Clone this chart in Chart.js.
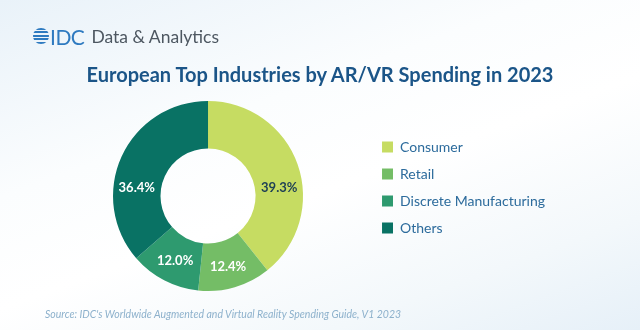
<!DOCTYPE html>
<html>
<head>
<meta charset="utf-8">
<script src="https://cdn.jsdelivr.net/npm/chart.js@4/dist/chart.umd.min.js"></script>
<style>
  html, body { margin: 0; padding: 0; }
  body {
    width: 640px; height: 330px; overflow: hidden; position: relative;
    font-family: Lato, "Open Sans", sans-serif;
    background: linear-gradient(160deg, #e9f2f9 0%, #fbfdfe 35%, #ffffff 55%, #f3f8fb 80%, #e6f0f8 100%);
  }
  #logo { position: absolute; left: 33px; top: 24px; height: 24px; display: flex; align-items: center; }
  #logo .mark {
    width: 16px; height: 16px; border-radius: 50%;
    background: repeating-linear-gradient(180deg, #2e7ac0 0px, #2e7ac0 2px, transparent 2px, transparent 3.5px);
  }
  #logo .idc { color: #2e7ac0; font-size: 21px; margin-left: 1px; letter-spacing: -0.5px; }
  #logo .da { color: #4d5761; font-size: 17.5px; margin-left: 7px; }
  #title {
    position: absolute; left: 0; width: 640px; top: 62px; text-align: center;
    font-weight: bold; font-size: 20px; color: #1b5588;
  }
  #source {
    position: absolute; left: 45px; top: 308px; font-style: italic; font-size: 10.5px; color: #8db1cc;
  }
  #wrap { position: absolute; left: 0; top: 0; width: 640px; height: 330px; }
</style>
</head>
<body>
<div id="wrap"><canvas id="chart"></canvas></div>
<div id="logo"><span class="mark"></span><span class="idc">IDC</span><span class="da">Data &amp; Analytics</span></div>
<div id="title">European Top Industries by AR/VR Spending in 2023</div>
<div id="source">Source: IDC's Worldwide Augmented and Virtual Reality Spending Guide, V1 2023</div>
<script>
const industries = ["Consumer", "Retail", "Discrete Manufacturing", "Others"];
const shares = [39.3, 12.4, 12.0, 36.4];
const sliceColors = ["#c6dc62", "#74bd66", "#2e9a6f", "#097264"];
const labelColors = ["#1d3f55", "#ffffff", "#ffffff", "#ffffff"];

// draws the percentage inside each slice
const sliceLabels = {
  id: "sliceLabels",
  afterDatasetsDraw(chart) {
    const ctx = chart.ctx;
    const meta = chart.getDatasetMeta(0);
    ctx.save();
    ctx.font = "bold 13px Lato, 'Open Sans', sans-serif";
    ctx.textAlign = "center";
    ctx.textBaseline = "middle";
    meta.data.forEach((arc, i) => {
      const p = arc.getProps(["x", "y", "startAngle", "endAngle", "innerRadius", "outerRadius"], true);
      const r = (p.innerRadius + p.outerRadius) / 2;
      let a = (p.startAngle + p.endAngle) / 2;
      let dy = 2;
      // big slices: put the label on the horizontal line if the slice crosses it
      for (const h of [0, Math.PI, 2 * Math.PI]) {
        if (p.startAngle <= h && p.endAngle >= h) { a = h; dy = -8; }
      }
      ctx.fillStyle = labelColors[i];
      ctx.fillText(shares[i].toFixed(1) + "%", p.x + Math.cos(a) * r, p.y + Math.sin(a) * r + dy);
    });
    ctx.restore();
  }
};

new Chart(document.getElementById("chart"), {
  type: "doughnut",
  data: {
    labels: industries,
    datasets: [{
      data: shares,
      backgroundColor: sliceColors,
      borderWidth: 0
    }]
  },
  options: {
    responsive: true,
    maintainAspectRatio: false,
    animation: false,
    cutout: "50%",
    layout: { padding: { top: 101, bottom: 39, left: 47, right: 85 } },
    plugins: {
      tooltip: { enabled: false },
      legend: {
        position: "right",
        align: "start",
        title: { display: true, text: "", padding: { top: 14, bottom: 0 }, font: { size: 10 } },
        labels: {
          boxWidth: 11,
          boxHeight: 11,
          padding: 13,
          color: "#2c6b9c",
          font: { family: "Lato, 'Open Sans', sans-serif", size: 14 }
        }
      }
    }
  },
  plugins: [sliceLabels]
});
</script>
</body>
</html>
